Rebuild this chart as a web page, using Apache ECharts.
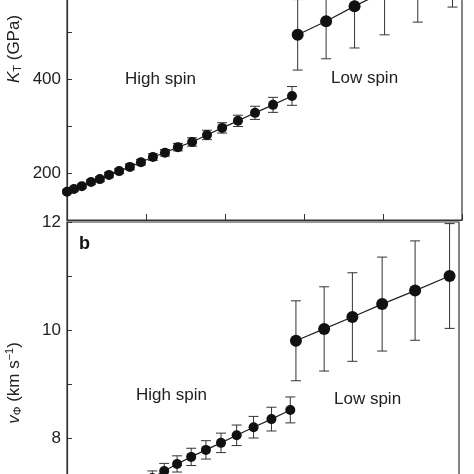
<!DOCTYPE html>
<html>
<head>
<meta charset="utf-8">
<script src="https://cdn.jsdelivr.net/npm/echarts@6/dist/echarts.min.js"></script>
<style>
  body { margin: 0; width: 474px; height: 474px; overflow: hidden; background: #fff; position: relative; }
  #chart { position: absolute; left: 0; top: -15px; width: 474px; height: 520px; }
</style>
</head>
<body>
<div id="chart"></div>
<script>
    // pressure (GPa)
    var hsP = [0, 2.2, 4.7, 7.6, 10.4, 13.3, 16.5, 19.9, 23.4, 27.2, 31, 35.1, 39.6, 44.3, 49.1, 54.1, 59.5, 65.2, 71.2];
    var hsK = [160, 166, 172, 181, 187, 196, 204, 213, 223, 234, 243, 255, 266, 281, 296, 311, 328, 345, 364];
    var hsKErr = [4, 4, 4, 5, 5, 5, 5, 6, 6, 7, 7, 8, 9, 10, 11, 12, 14, 16, 20];
    var lsP = [73, 82, 91, 100.5, 111, 122];
    var lsK = [494, 523, 555, 586, 621, 658];
    var lsKErr = [75, 80, 89, 92, 100, 105];

    var hsV = [null, null, null, null, null, null, null, null, null, 7.26, 7.39, 7.52, 7.65, 7.78, 7.91, 8.05, 8.2, 8.35, 8.52];
    var hsVErr = [0.1, 0.1, 0.1, 0.1, 0.1, 0.1, 0.1, 0.1, 0.12, 0.13, 0.14, 0.15, 0.16, 0.17, 0.18, 0.19, 0.2, 0.22, 0.24];
    var lsV = [9.80, 10.02, 10.24, 10.48, 10.73, 11.0];
    var lsVErr = [0.74, 0.78, 0.82, 0.87, 0.92, 0.97];

    function pts(xs, ys) {
        var out = [];
        for (var i = 0; i < xs.length; i++) {
            if (ys[i] != null) out.push([xs[i], ys[i]]);
        }
        return out;
    }
    function errs(xs, ys, es) {
        var out = [];
        for (var i = 0; i < xs.length; i++) {
            if (ys[i] != null) out.push([xs[i], ys[i] - es[i], ys[i] + es[i]]);
        }
        return out;
    }

    // error bars with caps
    function errSeries(idx, data) {
        return {
            type: 'custom', xAxisIndex: idx, yAxisIndex: idx, data: data, z: 1,
            renderItem: function (params, api) {
                var lo = api.coord([api.value(0), api.value(1)]);
                var hi = api.coord([api.value(0), api.value(2)]);
                var w = 5;
                var st = { stroke: '#333', lineWidth: 1 };
                return {
                    type: 'group', children: [
                        { type: 'line', shape: { x1: lo[0], y1: lo[1], x2: hi[0], y2: hi[1] }, style: st },
                        { type: 'line', shape: { x1: lo[0] - w, y1: lo[1], x2: lo[0] + w, y2: lo[1] }, style: st },
                        { type: 'line', shape: { x1: hi[0] - w, y1: hi[1], x2: hi[0] + w, y2: hi[1] }, style: st }
                    ]
                };
            }
        };
    }
    function lineSeries(idx, data, size) {
        return {
            type: 'line', xAxisIndex: idx, yAxisIndex: idx, data: data, z: 3,
            symbol: 'circle', symbolSize: size, itemStyle: { color: '#111' },
            lineStyle: { color: '#222', width: 1.2 }, animation: false
        };
    }

    var axisLine = { show: true, lineStyle: { color: '#333', width: 1.2 } };
    function xAx(idx) {
        return {
            type: 'value', gridIndex: idx, min: 0, max: 125, interval: 25,
            axisLine: axisLine, axisTick: { inside: true, length: 6, lineStyle: { color: '#333' } },
            axisLabel: { show: false }, splitLine: { show: false }
        };
    }

    var chart = echarts.init(document.getElementById('chart'));
    chart.setOption({
        animation: false,
        grid: [
            { left: 67, right: 12, top: 0, height: 235, show: true, borderColor: '#333', borderWidth: 1.2 },
            { left: 67, right: 15, top: 237, height: 270, show: true, borderColor: '#333', borderWidth: 1.2 }
        ],
        xAxis: [xAx(0), xAx(1)],
        yAxis: [
            {
                type: 'value', gridIndex: 0, min: 100, max: 600, interval: 100,
                axisLine: axisLine, axisTick: { inside: true, length: 5, lineStyle: { color: '#333' } },
                splitLine: { show: false },
                axisLabel: {
                    fontSize: 17, color: '#222', fontFamily: 'Liberation Sans', margin: 6,
                    formatter: function (v) { return (v === 200 || v === 400) ? v : ''; }
                }
            },
            {
                type: 'value', gridIndex: 1, min: 7, max: 12, interval: 1,
                axisLine: axisLine, axisTick: { inside: true, length: 5, lineStyle: { color: '#333' } },
                splitLine: { show: false },
                axisLabel: {
                    fontSize: 17, color: '#222', fontFamily: 'Liberation Sans', margin: 6,
                    formatter: function (v) { return (v % 2 === 0) ? v : ''; }
                }
            }
        ],
        graphic: [
            { type: 'text', left: 125, top: 86, style: { text: 'High spin', fontSize: 17, fill: '#222', fontFamily: 'Liberation Sans' } },
            { type: 'text', left: 331, top: 85, style: { text: 'Low spin', fontSize: 17, fill: '#222', fontFamily: 'Liberation Sans' } },
            { type: 'text', left: 136, top: 402, style: { text: 'High spin', fontSize: 17, fill: '#222', fontFamily: 'Liberation Sans' } },
            { type: 'text', left: 334, top: 406, style: { text: 'Low spin', fontSize: 17, fill: '#222', fontFamily: 'Liberation Sans' } },
            { type: 'text', left: 79, top: 250, style: { text: 'b', fontSize: 18, fontWeight: 'bold', fill: '#111', fontFamily: 'Liberation Sans' } },
            {
                type: 'text', x: 14, y: 64, rotation: Math.PI / 2, style: {
                    text: '{i|K}{s|T} (GPa)', fill: '#222', fontFamily: 'Liberation Sans', fontSize: 17,
                    align: 'center', verticalAlign: 'middle',
                    rich: { i: { fontStyle: 'italic', fontSize: 17 }, s: { fontSize: 11, padding: [8, 0, 0, 0] } }
                }
            },
            {
                type: 'text', x: 14, y: 398, rotation: Math.PI / 2, style: {
                    text: '{i|v}{s|Φ} (km s{u|−1})', fill: '#222', fontFamily: 'Liberation Sans', fontSize: 17,
                    align: 'center', verticalAlign: 'middle',
                    rich: { i: { fontStyle: 'italic', fontSize: 17 }, s: { fontSize: 11, padding: [8, 0, 0, 0] }, u: { fontSize: 11, padding: [0, 0, 8, 0] } }
                }
            }
        ],
        series: [
            errSeries(0, errs(hsP, hsK, hsKErr)),
            errSeries(0, errs(lsP, lsK, lsKErr)),
            lineSeries(0, pts(hsP, hsK), 10),
            lineSeries(0, pts(lsP, lsK), 12),
            errSeries(1, errs(hsP, hsV, hsVErr)),
            errSeries(1, errs(lsP, lsV, lsVErr)),
            lineSeries(1, pts(hsP, hsV), 10),
            lineSeries(1, pts(lsP, lsV), 12)
        ]
    });
</script>
</body>
</html>
